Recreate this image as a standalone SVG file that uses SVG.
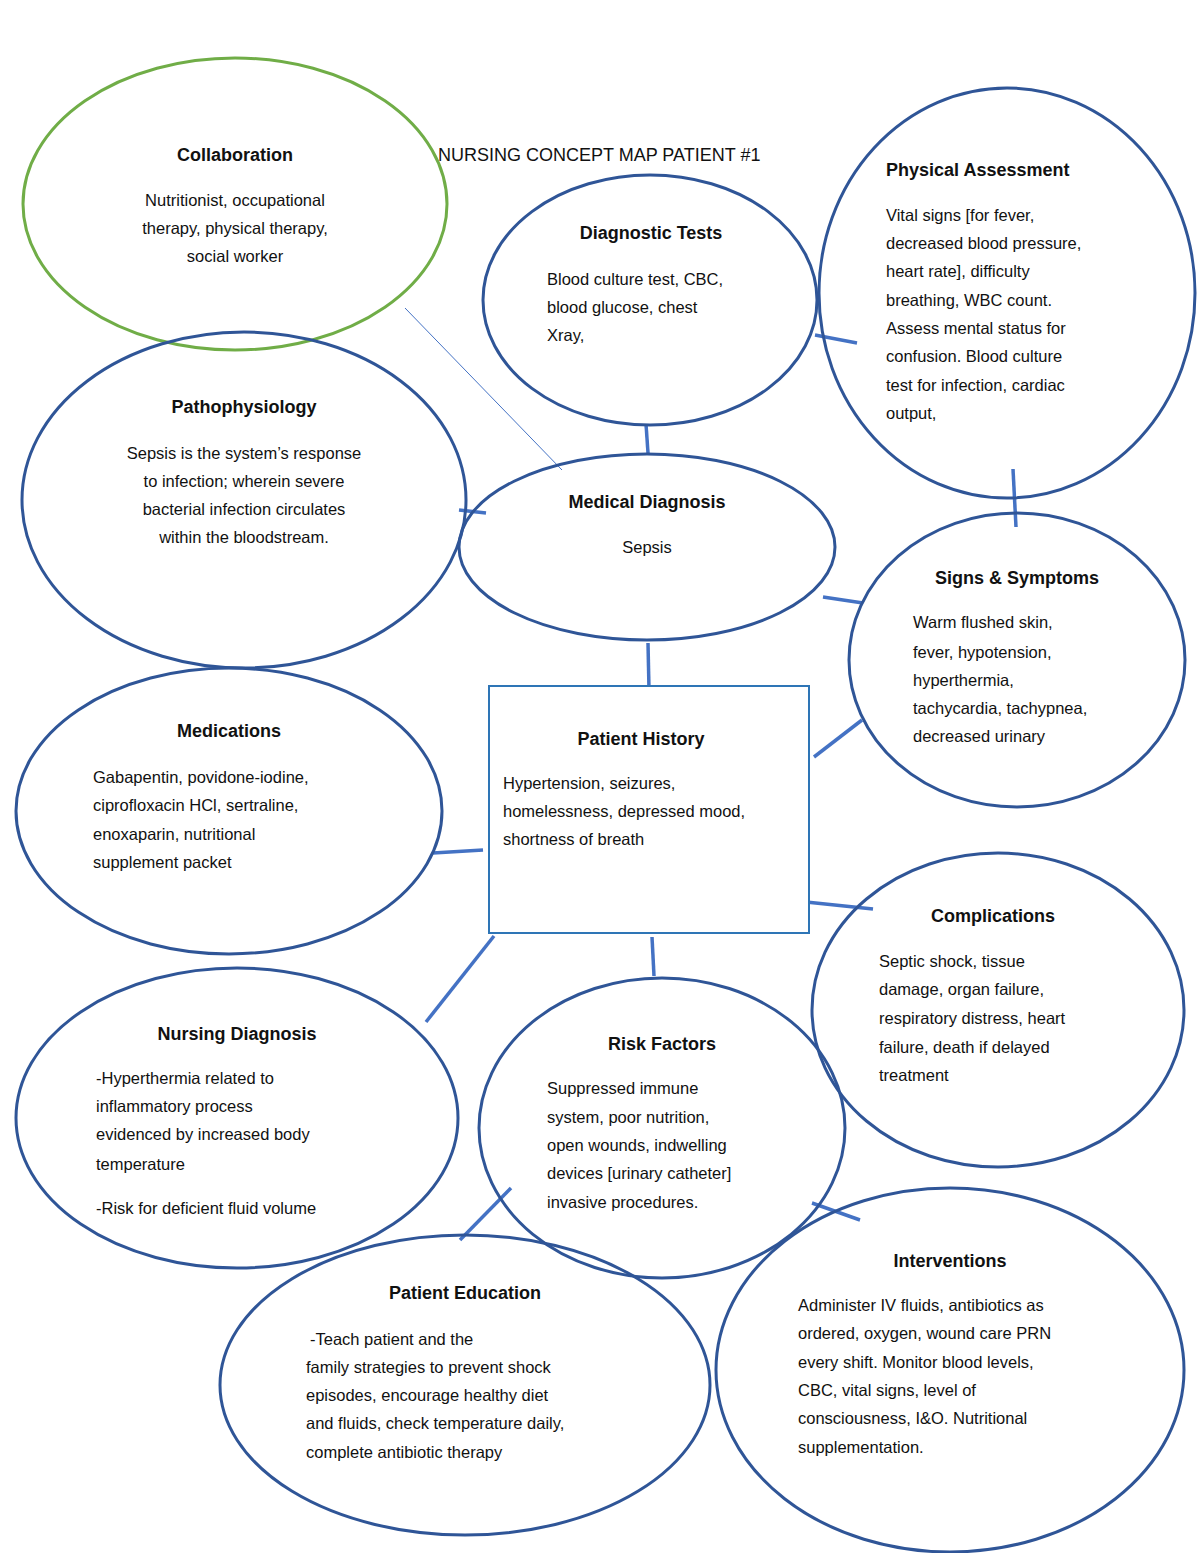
<svg xmlns="http://www.w3.org/2000/svg" width="1200" height="1553" viewBox="0 0 1200 1553">
<style>
.n{fill:none;stroke:#2f5597;stroke-width:3}
.g{fill:none;stroke:#70ad47;stroke-width:3}
.c{stroke:#4472c4;stroke-width:3.5;fill:none}
text{font-family:"Liberation Sans",Arial,sans-serif;font-size:16.5px;fill:#111}
.t{font-weight:bold;font-size:18px}
</style>
<rect width="1200" height="1553" fill="#fff"/>
<g id="connectors">
<line class="c" x1="646" y1="424" x2="648" y2="453"/>
<line class="c" x1="815" y1="335" x2="857" y2="343"/>
<line class="c" x1="1013" y1="469" x2="1016" y2="527"/>
<line class="c" x1="459" y1="510" x2="486" y2="513"/>
<line class="c" x1="823" y1="597" x2="863" y2="603"/>
<line class="c" x1="648" y1="643" x2="649" y2="690"/>
<line class="c" x1="814" y1="757" x2="862" y2="720"/>
<line class="c" x1="433" y1="853" x2="483" y2="850"/>
<line class="c" x1="806" y1="902" x2="873" y2="909"/>
<line class="c" x1="652" y1="937" x2="654" y2="976"/>
<line class="c" x1="494" y1="936" x2="426" y2="1022"/>
<line class="c" x1="511" y1="1188" x2="460" y2="1240"/>
<line class="c" x1="812" y1="1203" x2="860" y2="1220"/>
<line x1="405" y1="308" x2="562" y2="470" stroke="#4472c4" stroke-width="1"/>
</g>
<text x="438" y="161" style="font-size:18px">NURSING CONCEPT MAP PATIENT #1</text>
<g id="collab"><ellipse class="g" cx="235" cy="204" rx="212" ry="146"/>
<text class="t" x="235" y="161" text-anchor="middle">Collaboration</text>
<text x="235" y="206" text-anchor="middle">Nutritionist, occupational</text>
<text x="235" y="234" text-anchor="middle">therapy, physical therapy,</text>
<text x="235" y="262" text-anchor="middle">social worker</text></g>
<g id="diag"><ellipse class="n" cx="650" cy="300" rx="167" ry="125"/>
<text class="t" x="651" y="239" text-anchor="middle">Diagnostic Tests</text>
<text x="547" y="285">Blood culture test, CBC,</text>
<text x="547" y="313">blood glucose, chest</text>
<text x="547" y="341">Xray,</text></g>
<g id="phys"><ellipse class="n" cx="1007" cy="293" rx="188" ry="205"/>
<text class="t" x="886" y="176">Physical Assessment</text>
<text x="886" y="221">Vital signs [for fever,</text>
<text x="886" y="249">decreased blood pressure,</text>
<text x="886" y="277">heart rate], difficulty</text>
<text x="886" y="306">breathing, WBC count.</text>
<text x="886" y="334">Assess mental status for</text>
<text x="886" y="362">confusion. Blood culture</text>
<text x="886" y="391">test for infection, cardiac</text>
<text x="886" y="419">output,</text></g>
<g id="patho"><ellipse class="n" cx="244" cy="500" rx="222" ry="168"/>
<text class="t" x="244" y="413" text-anchor="middle">Pathophysiology</text>
<text x="244" y="459" text-anchor="middle">Sepsis is the system’s response</text>
<text x="244" y="487" text-anchor="middle">to infection; wherein severe</text>
<text x="244" y="515" text-anchor="middle">bacterial infection circulates</text>
<text x="244" y="543" text-anchor="middle">within the bloodstream.</text></g>
<g id="med"><ellipse class="n" cx="647" cy="547" rx="188" ry="93"/>
<text class="t" x="647" y="508" text-anchor="middle">Medical Diagnosis</text>
<text x="647" y="553" text-anchor="middle">Sepsis</text></g>
<g id="signs"><ellipse class="n" cx="1017" cy="660" rx="168" ry="147"/>
<text class="t" x="1017" y="584" text-anchor="middle">Signs &amp; Symptoms</text>
<text x="913" y="628">Warm flushed skin,</text>
<text x="913" y="658">fever, hypotension,</text>
<text x="913" y="686">hyperthermia,</text>
<text x="913" y="714">tachycardia, tachypnea,</text>
<text x="913" y="742">decreased urinary</text></g>
<g id="hist"><rect x="489" y="686" width="320" height="247" fill="#fff" stroke="#2e75b6" stroke-width="2"/>
<text class="t" x="641" y="745" text-anchor="middle">Patient History</text>
<text x="503" y="789">Hypertension, seizures,</text>
<text x="503" y="817">homelessness, depressed mood,</text>
<text x="503" y="845">shortness of breath</text></g>
<g id="meds"><ellipse class="n" cx="229" cy="811" rx="213" ry="143"/>
<text class="t" x="229" y="737" text-anchor="middle">Medications</text>
<text x="93" y="783">Gabapentin, povidone-iodine,</text>
<text x="93" y="811">ciprofloxacin HCl, sertraline,</text>
<text x="93" y="840">enoxaparin, nutritional</text>
<text x="93" y="868">supplement packet</text></g>
<g id="comp"><ellipse class="n" cx="998" cy="1010" rx="186" ry="157"/>
<text class="t" x="993" y="922" text-anchor="middle">Complications</text>
<text x="879" y="967">Septic shock, tissue</text>
<text x="879" y="995">damage, organ failure,</text>
<text x="879" y="1024">respiratory distress, heart</text>
<text x="879" y="1053">failure, death if delayed</text>
<text x="879" y="1081">treatment</text></g>
<g id="nurs"><ellipse class="n" cx="237" cy="1118" rx="221" ry="150"/>
<text class="t" x="237" y="1040" text-anchor="middle">Nursing Diagnosis</text>
<text x="96" y="1084">-Hyperthermia related to</text>
<text x="96" y="1112">inflammatory process</text>
<text x="96" y="1140">evidenced by increased body</text>
<text x="96" y="1170">temperature</text>
<text x="96" y="1214">-Risk for deficient fluid volume</text></g>
<g id="risk"><ellipse class="n" cx="662" cy="1128" rx="183" ry="150"/>
<text class="t" x="662" y="1050" text-anchor="middle">Risk Factors</text>
<text x="547" y="1094">Suppressed immune</text>
<text x="547" y="1123">system, poor nutrition,</text>
<text x="547" y="1151">open wounds, indwelling</text>
<text x="547" y="1179">devices [urinary catheter]</text>
<text x="547" y="1208">invasive procedures.</text></g>
<g id="edu"><ellipse class="n" cx="465" cy="1385" rx="245" ry="150"/>
<text class="t" x="465" y="1299" text-anchor="middle">Patient Education</text>
<text x="310" y="1345">-Teach patient and the</text>
<text x="306" y="1373">family strategies to prevent shock</text>
<text x="306" y="1401">episodes, encourage healthy diet</text>
<text x="306" y="1429">and fluids, check temperature daily,</text>
<text x="306" y="1458">complete antibiotic therapy</text></g>
<g id="inter"><ellipse class="n" cx="950" cy="1370" rx="234" ry="182"/>
<text class="t" x="950" y="1267" text-anchor="middle">Interventions</text>
<text x="798" y="1311">Administer IV fluids, antibiotics as</text>
<text x="798" y="1339">ordered, oxygen, wound care PRN</text>
<text x="798" y="1368">every shift. Monitor blood levels,</text>
<text x="798" y="1396">CBC, vital signs, level of</text>
<text x="798" y="1424">consciousness, I&amp;O.  Nutritional</text>
<text x="798" y="1453">supplementation.</text></g>
</svg>
